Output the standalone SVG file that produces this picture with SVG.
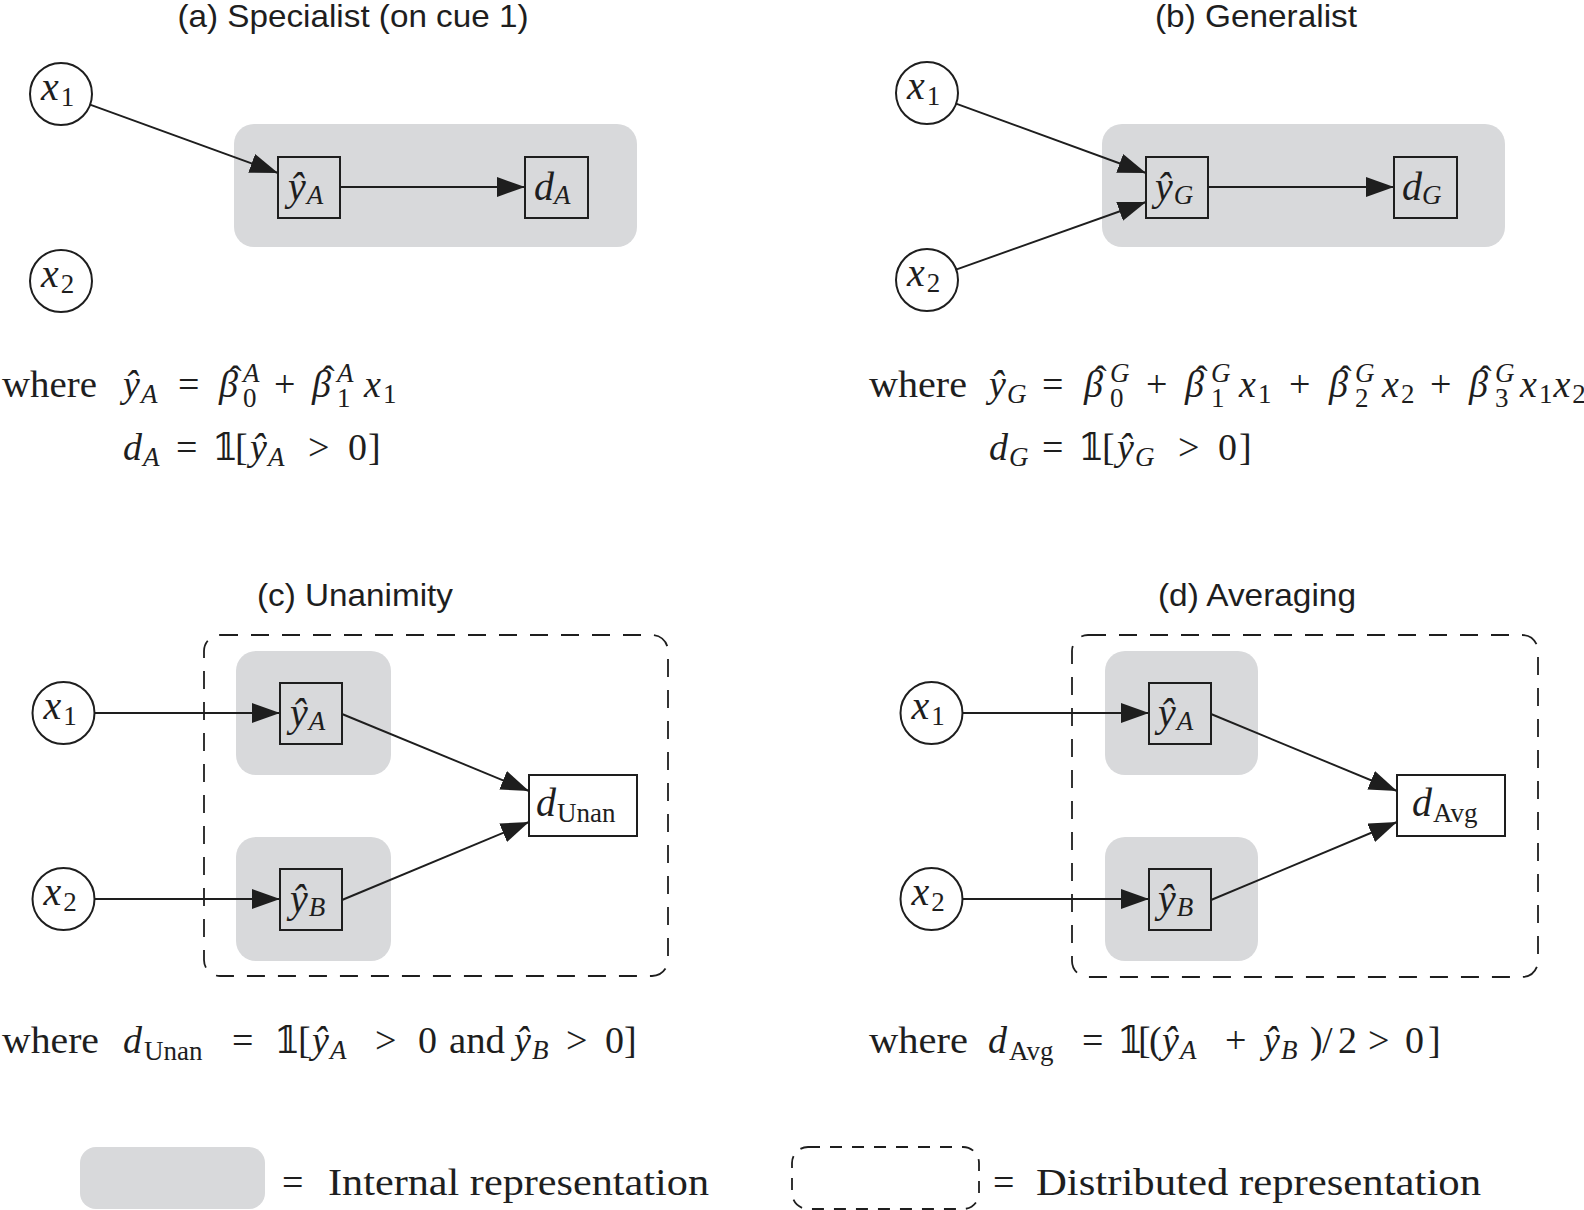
<svg xmlns="http://www.w3.org/2000/svg" width="1584" height="1210" viewBox="0 0 1584 1210">
<style>
.bg{fill:#ffffff}
.t{font-family:"Liberation Sans",Arial,sans-serif;font-size:32px;fill:#1e1e1e;text-anchor:middle}
.m{font-family:"Liberation Serif","Times New Roman",serif;font-size:38px;fill:#1e1e1e}
.L{font-family:"Liberation Serif","Times New Roman",serif;font-size:40px;fill:#1e1e1e}
.i{font-style:italic}
.s{font-size:27px}
.h{font-style:normal}
.bb{font-family:"DejaVu Serif","DejaVu Sans",serif;font-style:normal}
.gray{fill:#d8d9db}
.dash{fill:none;stroke:#1e1e1e;stroke-width:1.8;stroke-dasharray:18 13}
.dashs{fill:none;stroke:#1e1e1e;stroke-width:1.8;stroke-dasharray:12 10}
.node{fill:#ffffff;stroke:#1e1e1e;stroke-width:2}
.box{fill:none;stroke:#1e1e1e;stroke-width:2}
.edge{fill:none;stroke:#1e1e1e;stroke-width:1.9;marker-end:url(#ah)}
</style>
<defs>
<marker id="ah" markerWidth="28" markerHeight="20" refX="28" refY="10" orient="auto" markerUnits="userSpaceOnUse">
<path d="M0,0 L28,10 L0,20 z" fill="#1e1e1e"/>
</marker>
</defs>
<rect class="bg" x="0" y="0" width="1584" height="1210"/>

<!-- titles -->
<text class="t" x="353" y="27" textLength="351" lengthAdjust="spacingAndGlyphs">(a) Specialist (on cue 1)</text>
<text class="t" x="1256" y="27" textLength="202" lengthAdjust="spacingAndGlyphs">(b) Generalist</text>
<text class="t" x="355" y="606" textLength="196" lengthAdjust="spacingAndGlyphs">(c) Unanimity</text>
<text class="t" x="1257" y="606" textLength="198" lengthAdjust="spacingAndGlyphs">(d) Averaging</text>

<!-- representation regions -->
<g id="regions">
<rect class="gray" x="234" y="124" width="403" height="123" rx="20"/>
<rect class="gray" x="1102" y="124" width="403" height="123" rx="20"/>
<rect class="dash" x="204" y="635" width="464" height="341" rx="16"/>
<rect class="gray" x="236" y="651" width="155" height="124" rx="20"/>
<rect class="gray" x="236" y="837" width="155" height="124" rx="20"/>
<rect class="dash" x="1072" y="635" width="466" height="342" rx="16"/>
<rect class="gray" x="1105" y="651" width="153" height="124" rx="20"/>
<rect class="gray" x="1105" y="837" width="153" height="124" rx="20"/>
</g>

<!-- connectors -->
<g id="connectors">
<line class="edge" x1="90" y1="104.6" x2="278" y2="173"/>
<line class="edge" x1="340" y1="187" x2="525" y2="187"/>
<line class="edge" x1="956" y1="103.6" x2="1146" y2="173"/>
<line class="edge" x1="956" y1="269.6" x2="1146" y2="202"/>
<line class="edge" x1="1208" y1="187" x2="1394" y2="187"/>
<line class="edge" x1="94.5" y1="713" x2="280" y2="713"/>
<line class="edge" x1="94.5" y1="899" x2="280" y2="899"/>
<line class="edge" x1="342" y1="714" x2="529" y2="791"/>
<line class="edge" x1="342" y1="900" x2="529" y2="822"/>
<line class="edge" x1="962.5" y1="713" x2="1149" y2="713"/>
<line class="edge" x1="962.5" y1="899" x2="1149" y2="899"/>
<line class="edge" x1="1211" y1="714" x2="1397" y2="791"/>
<line class="edge" x1="1211" y1="900" x2="1397" y2="822"/>
</g>

<!-- panel a nodes -->
<g id="a_x1"><circle class="node" cx="61" cy="94" r="31"/><text class="L" x="41" y="100"><tspan class="i">x</tspan><tspan class="s" dx="2" dy="6">1</tspan></text></g>
<g id="a_x2"><circle class="node" cx="61" cy="281" r="31"/><text class="L" x="41" y="287"><tspan class="i">x</tspan><tspan class="s" dx="2" dy="6">2</tspan></text></g>
<g id="a_yA"><rect class="box" x="278" y="157" width="62" height="61"/><text class="L" x="288" y="200"><tspan class="i">ŷ</tspan><tspan class="i s" dx="1" dy="4">A</tspan></text></g>
<g id="a_dA"><rect class="box" x="525" y="157" width="63" height="61"/><text class="L" x="534" y="200"><tspan class="i">d</tspan><tspan class="i s" dx="0" dy="4">A</tspan></text></g>

<!-- panel b nodes -->
<g id="b_x1"><circle class="node" cx="927" cy="93" r="31"/><text class="L" x="907" y="99"><tspan class="i">x</tspan><tspan class="s" dx="2" dy="6">1</tspan></text></g>
<g id="b_x2"><circle class="node" cx="927" cy="280" r="31"/><text class="L" x="907" y="286"><tspan class="i">x</tspan><tspan class="s" dx="2" dy="6">2</tspan></text></g>
<g id="b_yG"><rect class="box" x="1146" y="157" width="62" height="61"/><text class="L" x="1155" y="200"><tspan class="i">ŷ</tspan><tspan class="i s" dx="1" dy="4">G</tspan></text></g>
<g id="b_dG"><rect class="box" x="1394" y="157" width="63" height="61"/><text class="L" x="1402" y="200"><tspan class="i">d</tspan><tspan class="i s" dx="0" dy="4">G</tspan></text></g>

<!-- panel c nodes -->
<g id="c_x1"><circle class="node" cx="63.5" cy="713" r="31"/><text class="L" x="43.5" y="719"><tspan class="i">x</tspan><tspan class="s" dx="2" dy="6">1</tspan></text></g>
<g id="c_x2"><circle class="node" cx="63.5" cy="899" r="31"/><text class="L" x="43.5" y="905"><tspan class="i">x</tspan><tspan class="s" dx="2" dy="6">2</tspan></text></g>
<g id="c_yA"><rect class="box" x="280" y="683" width="62" height="61"/><text class="L" x="290" y="726"><tspan class="i">ŷ</tspan><tspan class="i s" dx="1" dy="4">A</tspan></text></g>
<g id="c_yB"><rect class="box" x="280" y="869" width="62" height="61"/><text class="L" x="290" y="912"><tspan class="i">ŷ</tspan><tspan class="i s" dx="1" dy="4">B</tspan></text></g>
<g id="c_d"><rect class="box" x="529" y="775" width="108" height="61"/><text class="L" x="536" y="816"><tspan class="i">d</tspan><tspan class="s" dx="1" dy="6">Unan</tspan></text></g>

<!-- panel d nodes -->
<g id="d_x1"><circle class="node" cx="931.5" cy="713" r="31"/><text class="L" x="911.5" y="719"><tspan class="i">x</tspan><tspan class="s" dx="2" dy="6">1</tspan></text></g>
<g id="d_x2"><circle class="node" cx="931.5" cy="899" r="31"/><text class="L" x="911.5" y="905"><tspan class="i">x</tspan><tspan class="s" dx="2" dy="6">2</tspan></text></g>
<g id="d_yA"><rect class="box" x="1149" y="683" width="62" height="61"/><text class="L" x="1158" y="726"><tspan class="i">ŷ</tspan><tspan class="i s" dx="1" dy="4">A</tspan></text></g>
<g id="d_yB"><rect class="box" x="1149" y="869" width="62" height="61"/><text class="L" x="1158" y="912"><tspan class="i">ŷ</tspan><tspan class="i s" dx="1" dy="4">B</tspan></text></g>
<g id="d_d"><rect class="box" x="1397" y="775" width="108" height="61"/><text class="L" x="1412" y="816"><tspan class="i">d</tspan><tspan class="s" dx="1" dy="6">Avg</tspan></text></g>

<!-- equations a -->
<g id="eq_a">
<text class="m" x="2" y="397" textLength="95" lengthAdjust="spacingAndGlyphs">where</text>
<text class="m" x="123" y="397"><tspan class="i">ŷ</tspan><tspan class="i s" dx="1" dy="6">A</tspan></text>
<text class="m" x="178" y="397">=</text>
<text class="m i" x="219" y="397">β</text><text class="m" x="229" y="392">ˆ</text>
<text class="m i s" x="243" y="382">A</text><text class="m s" x="243" y="407">0</text>
<text class="m" x="274" y="397">+</text>
<text class="m i" x="312" y="397">β</text><text class="m" x="322" y="392">ˆ</text>
<text class="m i s" x="337" y="382">A</text><text class="m s" x="337" y="407">1</text>
<text class="m" x="364" y="397"><tspan class="i">x</tspan><tspan class="s" dx="2" dy="6">1</tspan></text>
<text class="m" x="123" y="460"><tspan class="i">d</tspan><tspan class="i s" dx="1" dy="6">A</tspan></text>
<text class="m" x="176" y="460">=</text>
<text class="m bb" x="212" y="460">𝟙</text>
<text class="m" x="235" y="460">[</text>
<text class="m" x="250" y="460"><tspan class="i">ŷ</tspan><tspan class="i s" dx="1" dy="6">A</tspan></text>
<text class="m" x="308" y="460">&gt;</text>
<text class="m" x="348" y="460">0</text>
<text class="m" x="368" y="460">]</text>
</g>

<!-- equations b -->
<g id="eq_b">
<text class="m" x="869" y="397" textLength="98" lengthAdjust="spacingAndGlyphs">where</text>
<text class="m" x="989" y="397"><tspan class="i">ŷ</tspan><tspan class="i s" dx="1" dy="6">G</tspan></text>
<text class="m" x="1042" y="397">=</text>
<text class="m i" x="1084" y="397">β</text><text class="m" x="1094" y="392">ˆ</text>
<text class="m i s" x="1110" y="382">G</text><text class="m s" x="1110" y="407">0</text>
<text class="m" x="1146" y="397">+</text>
<text class="m i" x="1185" y="397">β</text><text class="m" x="1195" y="392">ˆ</text>
<text class="m i s" x="1211" y="382">G</text><text class="m s" x="1211" y="407">1</text>
<text class="m" x="1239" y="397"><tspan class="i">x</tspan><tspan class="s" dx="2" dy="6">1</tspan></text>
<text class="m" x="1289" y="397">+</text>
<text class="m i" x="1329" y="397">β</text><text class="m" x="1339" y="392">ˆ</text>
<text class="m i s" x="1355" y="382">G</text><text class="m s" x="1355" y="407">2</text>
<text class="m" x="1382" y="397"><tspan class="i">x</tspan><tspan class="s" dx="2" dy="6">2</tspan></text>
<text class="m" x="1430" y="397">+</text>
<text class="m i" x="1469" y="397">β</text><text class="m" x="1479" y="392">ˆ</text>
<text class="m i s" x="1495" y="382">G</text><text class="m s" x="1495" y="407">3</text>
<text class="m" x="1520" y="397"><tspan class="i">x</tspan><tspan class="s" dx="2" dy="6">1</tspan><tspan class="i" dx="1" dy="-6">x</tspan><tspan class="s" dx="2" dy="6">2</tspan></text>
<text class="m" x="989" y="460"><tspan class="i">d</tspan><tspan class="i s" dx="1" dy="6">G</tspan></text>
<text class="m" x="1042" y="460">=</text>
<text class="m bb" x="1078" y="460">𝟙</text>
<text class="m" x="1102" y="460">[</text>
<text class="m" x="1117" y="460"><tspan class="i">ŷ</tspan><tspan class="i s" dx="1" dy="6">G</tspan></text>
<text class="m" x="1178" y="460">&gt;</text>
<text class="m" x="1218" y="460">0</text>
<text class="m" x="1239" y="460">]</text>
</g>

<!-- equation c -->
<g id="eq_c">
<text class="m" x="2" y="1053" textLength="97" lengthAdjust="spacingAndGlyphs">where</text>
<text class="m" x="123" y="1053"><tspan class="i">d</tspan><tspan class="s" dx="2" dy="7">Unan</tspan></text>
<text class="m" x="232" y="1053">=</text>
<text class="m bb" x="274" y="1053">𝟙</text>
<text class="m" x="298" y="1053">[</text>
<text class="m" x="312" y="1053"><tspan class="i">ŷ</tspan><tspan class="i s" dx="1" dy="6">A</tspan></text>
<text class="m" x="375" y="1053">&gt;</text>
<text class="m" x="418" y="1053">0</text>
<text class="m" x="449" y="1053" textLength="56" lengthAdjust="spacingAndGlyphs">and</text>
<text class="m" x="514" y="1053"><tspan class="i">ŷ</tspan><tspan class="i s" dx="1" dy="6">B</tspan></text>
<text class="m" x="566" y="1053">&gt;</text>
<text class="m" x="605" y="1053">0</text>
<text class="m" x="624" y="1053">]</text>
</g>

<!-- equation d -->
<g id="eq_d">
<text class="m" x="869" y="1053" textLength="99" lengthAdjust="spacingAndGlyphs">where</text>
<text class="m" x="988" y="1053"><tspan class="i">d</tspan><tspan class="s" dx="2" dy="7">Avg</tspan></text>
<text class="m" x="1082" y="1053">=</text>
<text class="m bb" x="1117" y="1053">𝟙</text>
<text class="m" x="1138" y="1053">[</text>
<text class="m" x="1149" y="1053">(</text>
<text class="m" x="1162" y="1053"><tspan class="i">ŷ</tspan><tspan class="i s" dx="1" dy="6">A</tspan></text>
<text class="m" x="1225" y="1053">+</text>
<text class="m" x="1263" y="1053"><tspan class="i">ŷ</tspan><tspan class="i s" dx="1" dy="6">B</tspan></text>
<text class="m" x="1310" y="1053">)</text>
<text class="m" x="1322" y="1053">/</text>
<text class="m" x="1338" y="1053">2</text>
<text class="m" x="1368" y="1053">&gt;</text>
<text class="m" x="1405" y="1053">0</text>
<text class="m" x="1428" y="1053">]</text>
</g>

<!-- legend -->
<g id="legend">
<rect class="gray" x="80" y="1147" width="185" height="62" rx="16"/>
<text class="m" x="282" y="1195">=</text>
<text class="m" x="328" y="1195" textLength="381" lengthAdjust="spacingAndGlyphs">Internal representation</text>
<rect class="dashs" x="792" y="1147" width="187" height="62" rx="16"/>
<text class="m" x="993" y="1195">=</text>
<text class="m" x="1036" y="1195" textLength="445" lengthAdjust="spacingAndGlyphs">Distributed representation</text>
</g>
</svg>
